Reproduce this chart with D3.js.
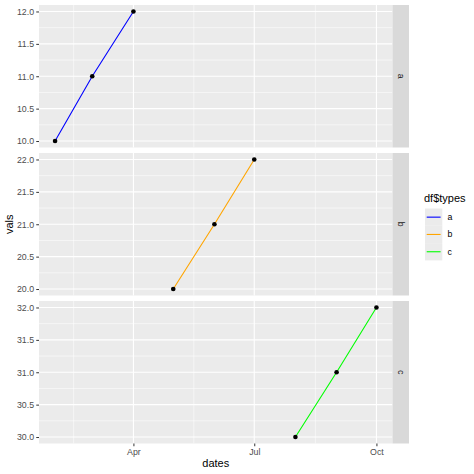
<!DOCTYPE html>
<html>
<head>
<meta charset="utf-8">
<script src="https://cdn.jsdelivr.net/npm/d3@7"></script>
<style>
  body { margin: 0; background: #fff; }
  text { font-family: "Liberation Sans", Arial, sans-serif; }
</style>
</head>
<body>
<svg width="474" height="474"></svg>
<script>
const types = ["a", "b", "c"];
const typeColors = ["#0000FF", "#FFA500", "#00FF00"];
const dates = ["2021-02-01", "2021-03-01", "2021-04-01",
               "2021-05-01", "2021-06-01", "2021-07-01",
               "2021-08-01", "2021-09-01", "2021-10-01"];
const vals = [10, 11, 12, 20, 21, 22, 30, 31, 32];
const rowTypes = ["a", "a", "a", "b", "b", "b", "c", "c", "c"];
const xBreaks = ["2021-01-01", "2021-04-01", "2021-07-01", "2021-10-01"];
const xTickLabels = ["Jan", "Apr", "Jul", "Oct"];

const parse = d3.timeParse("%Y-%m-%d");
const data = dates.map((d, i) => ({date: parse(d), val: vals[i], type: rowTypes[i]}));

const svg = d3.select("svg");
const PL = 39, PR = 392.5, STRIP_W = 16.5;
const panelTops = [5, 153, 301];
const PH = 142.5;

// shared x scale, with ggplot's 5% expansion
const xExt = d3.extent(data, d => d.date);
const span = xExt[1] - xExt[0];
const x = d3.scaleTime()
  .domain([new Date(+xExt[0] - span * 0.05), new Date(+xExt[1] + span * 0.05)])
  .range([PL, PR]);

const allBreaks = xBreaks.map(parse);
// minor breaks sit halfway between major ones
const xMinor = d3.pairs(allBreaks).map(([a, b]) => new Date((+a + +b) / 2));
const xMajor = allBreaks.filter(d => d >= x.domain()[0] && d <= x.domain()[1]);

const color = d3.scaleOrdinal().domain(types).range(typeColors);

types.forEach((t, i) => {
  const sub = data.filter(d => d.type == t);
  const top = panelTops[i];
  const yExt = d3.extent(sub, d => d.val);
  const ys = yExt[1] - yExt[0];
  const y = d3.scaleLinear()
    .domain([yExt[0] - ys * 0.05, yExt[1] + ys * 0.05])
    .range([top + PH, top]);

  const g = svg.append("g");
  g.append("rect").attr("x", PL).attr("y", top).attr("width", PR - PL).attr("height", PH)
    .attr("fill", "#EBEBEB");

  const yMajor = d3.range(yExt[0], yExt[1] + 0.001, 0.5);
  const yMinor = d3.range(yExt[0] + 0.25, yExt[1], 0.5);

  g.selectAll(".ymin").data(yMinor).join("line")
    .attr("x1", PL).attr("x2", PR).attr("y1", d => y(d)).attr("y2", d => y(d))
    .attr("stroke", "#fff").attr("stroke-width", 0.55);
  g.selectAll(".xmin").data(xMinor).join("line")
    .attr("x1", d => x(d)).attr("x2", d => x(d)).attr("y1", top).attr("y2", top + PH)
    .attr("stroke", "#fff").attr("stroke-width", 0.55);
  g.selectAll(".ymaj").data(yMajor).join("line")
    .attr("x1", PL).attr("x2", PR).attr("y1", d => y(d)).attr("y2", d => y(d))
    .attr("stroke", "#fff").attr("stroke-width", 1.1);
  g.selectAll(".xmaj").data(xMajor).join("line")
    .attr("x1", d => x(d)).attr("x2", d => x(d)).attr("y1", top).attr("y2", top + PH)
    .attr("stroke", "#fff").attr("stroke-width", 1.1);

  // y axis
  const yAxis = g.append("g").attr("transform", `translate(${PL},0)`)
    .call(d3.axisLeft(y).tickValues(yMajor).tickFormat(d3.format(".1f")).tickSize(2.75).tickPadding(2.2));
  yAxis.select(".domain").remove();
  yAxis.selectAll("line").attr("stroke", "#333");
  yAxis.selectAll("text").attr("fill", "#4D4D4D").style("font-size", "8.8px");

  // line + points
  g.append("path").datum(sub)
    .attr("d", d3.line().x(d => x(d.date)).y(d => y(d.val)))
    .attr("fill", "none").attr("stroke", color(t)).attr("stroke-width", 1.1);
  g.selectAll("circle").data(sub).join("circle")
    .attr("cx", d => x(d.date)).attr("cy", d => y(d.val)).attr("r", 2.3).attr("fill", "#000");

  // facet strip
  g.append("rect").attr("x", PR).attr("y", top).attr("width", STRIP_W).attr("height", PH)
    .attr("fill", "#D9D9D9");
  g.append("text").text(t)
    .attr("transform", `translate(${PR + STRIP_W / 2},${top + PH / 2}) rotate(90)`)
    .attr("text-anchor", "middle").attr("dominant-baseline", "central")
    .attr("fill", "#1A1A1A").style("font-size", "8.8px");
});

// x axis under the last panel
const bottom = panelTops[2] + PH;
const xAxis = svg.append("g").attr("transform", `translate(0,${bottom})`)
  .call(d3.axisBottom(x).tickValues(xMajor)
    .tickFormat(d => xTickLabels[allBreaks.findIndex(b => +b == +d)])
    .tickSize(2.75).tickPadding(2.2));
xAxis.select(".domain").remove();
xAxis.selectAll("line").attr("stroke", "#333");
xAxis.selectAll("text").attr("fill", "#4D4D4D").style("font-size", "8.8px");

// axis titles
svg.append("text").text("dates").attr("x", (PL + PR) / 2).attr("y", 467)
  .attr("text-anchor", "middle").style("font-size", "11px").attr("fill", "#000");
svg.append("text").text("vals")
  .attr("transform", `translate(13,${(panelTops[0] + bottom) / 2}) rotate(-90)`)
  .attr("text-anchor", "middle").style("font-size", "11px").attr("fill", "#000");

// legend
const lg = svg.append("g").attr("transform", "translate(424,0)");
lg.append("text").text("df$types").attr("x", 0).attr("y", 202).style("font-size", "11px").attr("fill", "#000");
types.forEach((t, i) => {
  const ky = 208.5 + i * 17.3;
  lg.append("rect").attr("x", 1).attr("y", ky).attr("width", 17.3).attr("height", 17.3).attr("fill", "#EBEBEB");
  lg.append("line").attr("x1", 2.7).attr("x2", 16.6).attr("y1", ky + 8.65).attr("y2", ky + 8.65)
    .attr("stroke", color(t)).attr("stroke-width", 1.1);
  lg.append("text").text(t).attr("x", 23.5).attr("y", ky + 8.65).attr("dominant-baseline", "central")
    .style("font-size", "8.8px").attr("fill", "#000");
});
</script>
</body>
</html>
